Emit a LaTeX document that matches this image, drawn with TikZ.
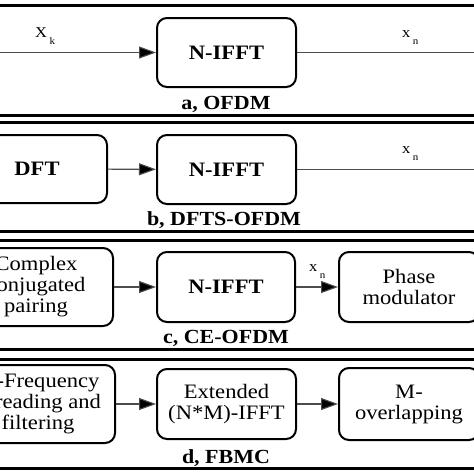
\documentclass[tikz,border=0pt]{standalone}
\usepackage{fontspec}
\setmainfont{Liberation Serif}[FakeStretch=1.1]
\usetikzlibrary{arrows.meta}
\begin{document}
\begin{tikzpicture}[x=1pt,y=-1pt,
  blk/.style={draw, line width=2pt, rounded corners=10pt, minimum width=139pt,
    minimum height=69pt, align=center, inner sep=0pt, font=\fontsize{20.5}{21}\selectfont},
  bblk/.style={blk, font=\fontsize{20.5}{21}\selectfont\bfseries},
  sepline/.style={line width=3pt},
  conn/.style={line width=1.1pt, draw=black!70, -{Triangle[length=17pt,width=12pt,fill=black]}},
  plainconn/.style={line width=1.1pt, draw=black!70},
  lab/.style={font=\fontsize{20}{20}\selectfont\bfseries, inner sep=0pt, anchor=base},
  sig/.style={font=\fontsize{15}{15}\selectfont, inner sep=0pt, anchor=base west}]
\newcommand{\subsc}[1]{\,\raisebox{-7pt}{\fontsize{10}{10}\selectfont #1}}
\useasboundingbox (0,0) rectangle (474,474);
\clip (0,0) rectangle (474,474);
\fill[white] (0,0) rectangle (474,474);
% separators
\draw[sepline] (-5,5.5) -- (480,5.5);
\draw[sepline] (-5,115) -- (480,115);
\draw[sepline] (-5,122.5) -- (480,122.5);
\draw[sepline] (-5,231) -- (480,231);
\draw[sepline] (-5,240.5) -- (480,240.5);
\draw[sepline] (-5,349.5) -- (480,349.5);
\draw[sepline] (-5,359) -- (480,359);
\draw[sepline] (-5,468) -- (480,468);
% a
\node[bblk] (a1) at (226.5,52.5) {N-IFFT};
\coordinate (ain) at (-5,52.5);
\coordinate (aout) at (480,52.5);
\draw[conn] (ain) -- (a1);
\draw[plainconn] (a1) -- (aout);
\node[sig] (xk) at (35,37) {X\subsc{k}};
\node[sig] (xna) at (402,37) {x\subsc{n}};
\node[lab] (la) at (226,109) {a, OFDM};
% b
\node[bblk, minimum width=140pt, minimum height=68pt] (b0) at (37,169) {DFT};
\node[bblk] (b1) at (226.5,169.5) {N-IFFT};
\coordinate (bout) at (480,169.5);
\draw[conn] (b0) -- (b1);
\draw[plainconn] (b1) -- (bout);
\node[sig] (xnb) at (402,153) {x\subsc{n}};
\node[lab] (lb) at (224,225) {b, DFTS-OFDM};
% c
\node[blk, minimum width=154pt, minimum height=78pt] (c0) at (36,287) {Complex\\conjugated\\pairing};
\node[bblk, minimum width=138pt, minimum height=70pt] (c1) at (226,287) {N-IFFT};
\node[blk, minimum width=140pt, minimum height=70pt] (c2) at (409,287) {Phase\\modulator};
\draw[conn] (c0) -- (c1);
\draw[conn] (c1) -- (c2);
\node[sig] (xnc) at (309,271) {x\subsc{n}};
\node[lab] (lc) at (226,343) {c, CE-OFDM};
% d
\node[blk, minimum width=154pt, minimum height=78pt] (d0) at (38,404) {M-Frequency\\spreading and\\filtering};
\node[blk, minimum height=70pt] (d1) at (226.5,404) {Extended\\(N*M)-IFFT};
\node[blk, minimum width=140pt, minimum height=72pt] (d2) at (409,404) {M-\\overlapping};
\draw[conn] (d0) -- (d1);
\draw[conn] (d1) -- (d2);
\node[lab] (ld) at (226,463) {d, FBMC};
\end{tikzpicture}
\end{document}
